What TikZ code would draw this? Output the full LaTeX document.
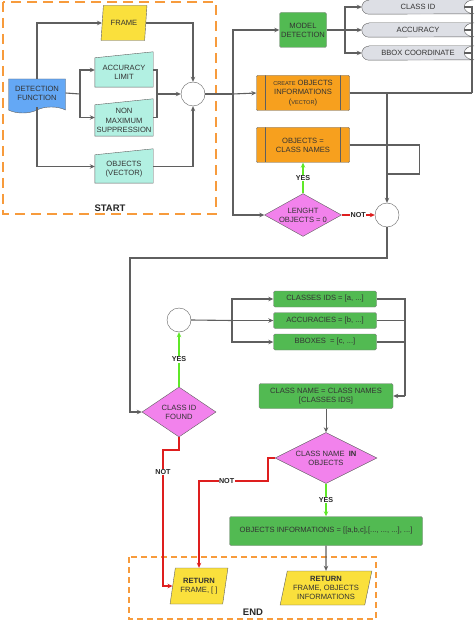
\documentclass[tikz,border=0pt]{standalone}
\usepackage{fontspec}
\setmainfont{Liberation Sans}
\usetikzlibrary{shapes.geometric,shapes.symbols,arrows.meta,backgrounds,positioning}
\definecolor{lineg}{RGB}{95,95,95}
\definecolor{detblue}{RGB}{100,168,245}
\definecolor{frameyel}{RGB}{250,224,60}
\definecolor{inaqua}{RGB}{178,240,226}
\definecolor{procgreen}{RGB}{82,186,82}
\definecolor{procorange}{RGB}{247,160,30}
\definecolor{decpink}{RGB}{242,130,236}
\definecolor{storegray}{RGB}{221,223,229}
\definecolor{zoneorange}{RGB}{247,155,60}
\definecolor{yesgreen}{RGB}{95,232,40}
\definecolor{notred}{RGB}{222,30,30}
\newcommand{\smallcap}[1]{{\fontsize{5.6}{6}\selectfont #1}}

\begin{document}
\begin{tikzpicture}[x=1pt, y=-1pt, >={Stealth[length=5pt,width=4.5pt]},
    base/.style={font=\fontsize{7.6}{9.2}\selectfont, align=center, inner sep=0.5pt, text=black!80},
    docu/.style={base, tape, tape bend top=none, tape bend height=6pt, draw=lineg, fill=detblue, minimum width=57pt, minimum height=34pt},
    inout/.style={base, trapezium, trapezium left angle=76, trapezium right angle=104, trapezium stretches=true, draw=lineg, fill=frameyel},
    manin/.style={base, rectangle, minimum width=58pt},
    maninbox/.style={draw=lineg, fill=inaqua},
    store/.style={base, rectangle, minimum width=112pt, minimum height=14pt},
    storebox/.style={draw=lineg, fill=storegray},
    procg/.style={base, rectangle, rounded corners=1.5pt, draw=lineg!80, fill=procgreen},
    predef/.style={base, rectangle, rounded corners=1pt, draw=lineg, fill=procorange, minimum width=93pt, minimum height=35pt,
        path picture={\draw[lineg] ([xshift=9pt]path picture bounding box.north west) -- ([xshift=9pt]path picture bounding box.south west)
            ([xshift=-9pt]path picture bounding box.north east) -- ([xshift=-9pt]path picture bounding box.south east);}},
    decide/.style={base, diamond, aspect=1.8, draw=lineg, fill=decpink},
    junc/.style={circle, draw=lineg, fill=white, minimum size=24pt, inner sep=0pt},
    zone/.style={draw=zoneorange, dash pattern=on 10pt off 6pt, line width=1.5pt},
    zonetitle/.style={font=\fontsize{9.5}{10}\bfseries, text=black!85},
    flowtag/.style={font=\fontsize{7.2}{8}\bfseries, text=black!85, fill=white, inner sep=0.5pt},
    line/.style={->, draw=lineg, line width=1.1pt},
    plain/.style={draw=lineg, line width=1.1pt},
    yesline/.style={->, draw=yesgreen, line width=1.2pt, >={Stealth[length=5pt,width=4.5pt]}},
    noline/.style={->, draw=notred, line width=1.2pt}]

\useasboundingbox (0,0) rectangle (474,620);

% start zone
\draw[zone] (3,2) rectangle (216,214);
\node[zonetitle] (startlbl) at (110,208) {START};

\node[docu] (det) at (37,93) {DETECTION\\FUNCTION};
\node[inout, minimum width=46pt, minimum height=35pt] (frame) at (124,23) {FRAME};
\node[manin, minimum height=29pt] (acc) at (124,72.5) {ACCURACY\\LIMIT};
\node[manin, minimum height=31pt] (nms) at (124,120.5) {NON\\MAXIMUM\\SUPPRESSION};
\node[manin, minimum height=28pt] (obj) at (124,169) {OBJECTS\\(VECTOR)};
\node[junc] (c1) at (193,94) {};

% detection branch
\node[procg, minimum width=47pt, minimum height=35pt] (md) at (303,30) {MODEL\\DETECTION};
\node[store] (cid) at (418,7) {CLASS ID};
\node[store] (accu) at (418,30) {ACCURACY};
\node[store] (bbox) at (418,53) {BBOX COORDINATE};
\node[predef] (cio) at (303,93) {\smallcap{CREATE} OBJECTS\\INFORMATIONS\\(\smallcap{VECTOR})};
\node[predef] (ocn) at (303,145) {OBJECTS =\\CLASS NAMES};
\node[decide, minimum width=73pt, minimum height=40pt] (len) at (303,215) {LENGHT\\OBJECTS = 0};
\node[junc] (c2) at (387,215) {};

% class lookup
\node[decide, minimum width=74pt, minimum height=50pt] (found) at (179,412) {CLASS ID\\FOUND};
\node[junc] (c3) at (179,320) {};
\node[procg, minimum width=103pt, minimum height=16pt] (cids) at (325,299) {CLASSES IDS = [a, ...]};
\node[procg, minimum width=103pt, minimum height=16pt] (accs) at (325,320.5) {ACCURACIES = [b, ...]};
\node[procg, minimum width=103pt, minimum height=16pt] (bbs) at (325,342) {BBOXES~~= [c, ...]};
\node[procg, minimum width=134pt, minimum height=25pt] (cname) at (326,396) {CLASS NAME = CLASS NAMES\\{[}CLASSES IDS{]}};
\node[decide, minimum width=102pt, minimum height=51pt] (inobj) at (326,458) {CLASS NAME~~\textbf{IN}\\OBJECTS};
\node[procg, minimum width=193pt, minimum height=29pt] (oinfo) at (326,531) {OBJECTS INFORMATIONS = [[a,b,c],[..., ..., ...], ...]};

% end zone
\draw[zone, dash pattern=on 6pt off 4pt, line width=1.2pt] (129,557) rectangle (376,619);
\node[zonetitle] (endlbl) at (253,612) {END};
\node[inout, minimum width=58pt, minimum height=36pt] (ret1) at (199,586) {\textbf{RETURN}\\FRAME, [ ]};
\node[inout, minimum width=92pt, minimum height=34pt] (ret2) at (326,588) {\textbf{RETURN}\\FRAME, OBJECTS\\INFORMATIONS};

% junction points
\coordinate (jdet) at (80,94);
\coordinate (jin) at (157,94);
\coordinate (jmain) at (233,94);
\coordinate (jmd) at (345,30);
\coordinate (jr) at (472,93);
\coordinate (jm2) at (387,93);
\coordinate (jm3) at (387,174);
\coordinate (jlow) at (130,258);
\coordinate (jc3) at (232,320.5);
\coordinate (jcr) at (405,396);
\coordinate (jn1) at (268,481);
\coordinate (jn2) at (163,450);

% start connectors
\draw[line] (det.north) |- (frame.west);
\draw[line] (frame.east) -| (c1.north);
\draw[plain] (det.east) -- (jdet);
\draw[line] (jdet) |- ([yshift=2.5pt]acc.west);
\draw[line] (jdet) |- ([yshift=3pt]nms.west);
\draw[plain] ([yshift=2.5pt]acc.east) -| (jin);
\draw[plain] ([yshift=3pt]nms.east) -| (jin);
\draw[line] (jin) -- (c1.west);
\draw[line] (det.south) |- ([yshift=2.5pt]obj.west);
\draw[line] ([yshift=2.5pt]obj.east) -| (c1.south);

% detection connectors
\draw[plain] (c1.east) -- (jmain);
\draw[line] (jmain) |- (md.west);
\draw[line] (jmain) -- (cio.west);
\draw[line] (jmain) |- (len.west);
\draw[plain] (md.east) -- (jmd);
\draw[line] (jmd) |- (cid.west);
\draw[line] (jmd) |- (accu.west);
\draw[line] (jmd) |- (bbox.west);
\draw[plain] ([xshift=-10pt]cid.east) -| (jr);
\draw[plain] ([xshift=-10pt]accu.east) -| (jr);
\draw[plain] ([xshift=-10pt]bbox.east) -| (jr);
\draw[plain] (jr) -- (jm2);
\draw[plain] (cio.east) -- (jm2);
\draw[plain] (ocn.east) -- ++(70pt,0) |- (jm3);
\draw[line] (jm2) -- (c2.north);
\draw[yesline] (len.north) -- node[flowtag] {YES} (ocn.south);
\draw[noline] (len.east) -- node[flowtag] {NOT} (c2.west);

% lookup connectors
\draw[line] (c2.south) |- (jlow) |- (found.west);
\draw[yesline] (found.north) -- node[flowtag] {YES} (c3.south);
\draw[plain] (c3.east) -- (jc3);
\draw[line] (jc3) |- (cids.west);
\draw[line] (jc3) -- (accs.west);
\draw[line] (jc3) |- (bbs.west);
\draw[plain] (cids.east) -| (jcr);
\draw[plain] (accs.east) -| (jcr);
\draw[plain] (bbs.east) -| (jcr);
\draw[line] (jcr) -- (cname.east);
\draw[->, draw=lineg, line width=0.7pt] (cname.south) -- (inobj.north);
\draw[yesline] (inobj.south) -- node[flowtag] {YES} (oinfo.north);
\draw[line] (oinfo.south) -- (ret2.north);
\draw[noline] (inobj.west) -| (jn1) -| node[flowtag, pos=0.3] {NOT} (ret1.north);
\draw[noline] (found.south) |- (jn2) |- node[flowtag, pos=0.08] {NOT} (ret1.west);

% outlines drawn behind the texts
\begin{scope}[on background layer]
\foreach \m in {acc,nms,obj}
    \draw[maninbox] (\m.north west) -- ([yshift=6pt]\m.north east) -- (\m.south east) -- (\m.south west) -- cycle;
\foreach \s in {cid,accu,bbox}
    \draw[storebox] ([xshift=7pt]\s.north west) -- (\s.north east)
        arc[start angle=90, end angle=270, x radius=10pt, y radius=7pt]
        -- ([xshift=7pt]\s.south west)
        arc[start angle=270, end angle=90, x radius=7pt, y radius=7pt] -- cycle;
\end{scope}

\end{tikzpicture}
\end{document}
